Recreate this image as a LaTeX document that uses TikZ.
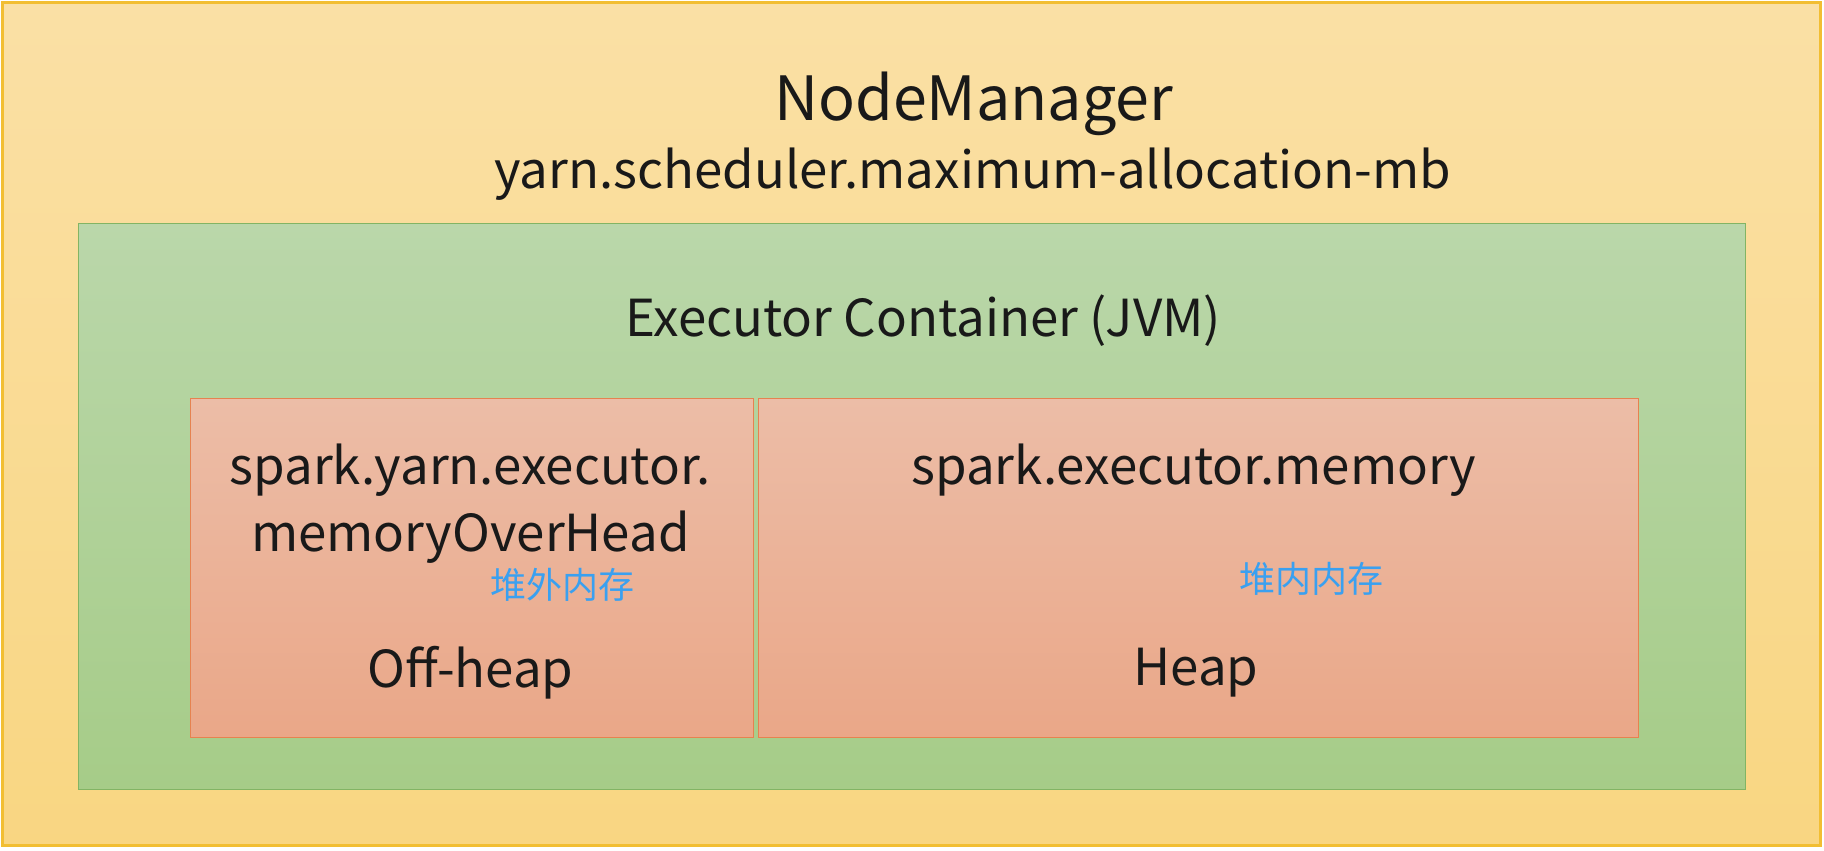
\documentclass[tikz,border=0pt]{standalone}
\usepackage{fontspec}
\setmainfont{Noto Sans CJK SC}
\begin{document}
\begin{tikzpicture}[x=1.176pt,y=-1.176pt,
  outer/.style={draw={rgb,255:red,242;green,190;blue,50},line width=3pt,top color={rgb,255:red,250;green,224;blue,165},bottom color={rgb,255:red,249;green,214;blue,130}},
  green/.style={draw={rgb,255:red,130;green,180;blue,100},line width=0.8pt,top color={rgb,255:red,186;green,215;blue,170},bottom color={rgb,255:red,166;green,204;blue,136}},
  pink/.style={draw={rgb,255:red,230;green,130;blue,80},line width=0.8pt,top color={rgb,255:red,236;green,189;blue,167},bottom color={rgb,255:red,234;green,167;blue,136}},
  lbl/.style={font=\fontsize{51}{54}\selectfont,text=black!90},
  cn/.style={font=\fontsize{36}{38}\selectfont,text={rgb,255:red,58;green,160;blue,240}}]
\useasboundingbox (0,0) rectangle (1551,723);
\fill[white] (0,0) rectangle (1551,723);
\path[outer] (2,2) rectangle (1548,719);
\path[green] (67,190) rectangle (1484,671);
\path[pink] (162,339) rectangle (641,627);
\path[pink] (645,339) rectangle (1393,627);
\node[lbl,font=\fontsize{61}{64}\selectfont] (t1) at (828,88) {NodeManager};
\node[lbl] (t2) at (827,148) {yarn.scheduler.maximum-allocation-mb};
\node[lbl] (t3) at (785,273) {Executor Container (JVM)};
\node[lbl] (a1) at (400,400) {spark.yarn.executor.};
\node[lbl] (a2) at (400,457) {memoryOverHead};
\node[cn] (a3) at (478,497) {堆外内存};
\node[lbl] (a4) at (400,572) {Off-heap};
\node[lbl] (b1) at (1015,400) {spark.executor.memory};
\node[cn] (b2) at (1115,492) {堆内内存};
\node[lbl] (b3) at (1017,572) {Heap};
\end{tikzpicture}
\end{document}
